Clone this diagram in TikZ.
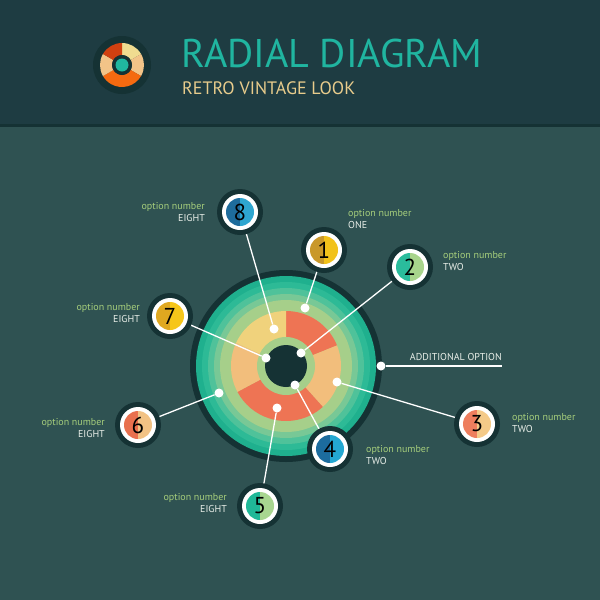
\documentclass[tikz,border=0pt]{standalone}
\usepackage{fontspec}
\setmainfont{PT Sans}
\begin{document}
\begin{tikzpicture}[x=1pt,y=-1pt,
  dot/.style={circle,fill=white,minimum size=9pt,inner sep=0pt},
  lnk/.style={white,line width=1.3pt},
  opt/.style={font=\fontsize{10}{11}\selectfont,align=#1,inner sep=0pt},
  ]
\definecolor{bg}{HTML}{2F5252}\definecolor{hd}{HTML}{1E3C42}\definecolor{dk}{HTML}{153234}
\definecolor{lg}{HTML}{A6CE7C}\definecolor{wt}{HTML}{E8EEE8}
\fill[bg] (0,0) rectangle (600,600);
\fill[hd] (0,0) rectangle (600,124);
\fill[dk] (0,124) rectangle (600,127);
% header icon (angles clockwise because y points down)
\fill[dk] (122,65) circle (29);
\foreach \a/\b/\c in {-90/-30/F0DC90,-30/30/F2C488,30/150/F56A10,150/210/F2C488,210/270/D04010}{
  \definecolor{tmp}{HTML}{\c}
  \fill[tmp] (122,65) ++(\a:22) arc[start angle=\a,end angle=\b,radius=22] -- ++(\b:-12) arc[start angle=\b,end angle=\a,radius=10] -- cycle;}
\fill[dk] (122,65) circle (10);
\fill[fill={rgb,255:red,32;green,184;blue,160}] (122,65) circle (6.5);
\node[anchor=base west,inner sep=0pt,text={rgb,255:red,32;green,181;blue,160},font=\fontsize{40}{40}\selectfont] (t) at (181,67) {RADIAL DIAGRAM};
\node[anchor=base west,inner sep=0pt,text={rgb,255:red,232;green,204;blue,140},font=\fontsize{18}{18}\selectfont] (st) at (182,94) {RETRO VINTAGE LOOK};
% main circle
\coordinate (C) at (286,366);
\fill[dk] (C) circle (96);
\foreach \r/\c in {90/1FB08E,84/2DBA96,78/4FC29A,72/78C896,66/A6CF8A}{
  \definecolor{tmp}{HTML}{\c}
  \fill[tmp] (C) circle (\r);}
\foreach \a/\b/\c in {-90/-22/EE7454,-22/48/F2BE7C,48/152/EE7454,152/205/F2BE7C,205/270/F0D27C}{
  \definecolor{tmp}{HTML}{\c}
  \fill[tmp] (C) -- ++(\a:55) arc[start angle=\a,end angle=\b,radius=55] -- cycle;}
\definecolor{tmp}{HTML}{A6CF8A}
\fill[tmp] (C) circle (29);
\fill[dk] (C) circle (21);
% numbered circles
\newcommand{\numc}[5]{%
  \fill[dk] (#2) circle (23);
  \fill[white] (#2) circle (18);
  \definecolor{tmpa}{HTML}{#3}\definecolor{tmpb}{HTML}{#4}
  \fill[tmpa] (#2) ++(90:14) arc[start angle=90,end angle=270,radius=14] -- cycle;
  \fill[tmpb] (#2) ++(-90:14) arc[start angle=-90,end angle=90,radius=14] -- cycle;
  \node[font=\fontsize{23}{23}\selectfont,text=black] (n#1) at (#2) {#5};}
\coordinate (p1) at (324,250);\coordinate (p2) at (410,267);\coordinate (p3) at (477,424);
\coordinate (p4) at (330,449);\coordinate (p5) at (260,506);\coordinate (p6) at (138,425);
\coordinate (p7) at (170,316);\coordinate (p8) at (240,212);
\node[dot] (d1) at (305,308) {};\node[dot] (d2) at (301,353) {};\node[dot] (d3) at (337,382) {};
\node[dot] (d4) at (295,385) {};\node[dot] (d5) at (277,408) {};\node[dot] (d6) at (219,393) {};
\node[dot] (d7) at (266,358) {};\node[dot] (d8) at (274,329) {};\node[dot] (da) at (381,366) {};
\coordinate (ae) at (502,366);
\foreach \i in {1,...,8} \draw[lnk] (d\i) -- (p\i);
\draw[lnk] (da) -- (ae);
\numc{1}{p1}{C9982A}{F2C21A}{1}
\numc{2}{p2}{2ABC9C}{A8D48C}{2}
\numc{3}{p3}{EE7E5E}{F4CA88}{3}
\numc{4}{p4}{1C6C9E}{24A8D2}{4}
\numc{5}{p5}{20B898}{A8D690}{5}
\numc{6}{p6}{E8704E}{F2C284}{6}
\numc{7}{p7}{E0A820}{F6C61A}{7}
\numc{8}{p8}{1E6C9C}{2EA6D0}{8}
\node[anchor=base east,opt=right,text=wt] (aa) at (502,360) {ADDITIONAL OPTION};
% labels
\newcommand{\lbl}[5]{\node[opt=#3,anchor=base #2] (l#1) at (#4) {\textcolor{lg}{option number}\\[1pt]\textcolor{wt}{#5}};}
\lbl{8}{east}{right}{205,221}{EIGHT}
\lbl{1}{west}{left}{348,228}{ONE}
\lbl{2}{west}{left}{443,270}{TWO}
\lbl{7}{east}{right}{140,322}{EIGHT}
\lbl{6}{east}{right}{105,437}{EIGHT}
\lbl{3}{west}{left}{512,432}{TWO}
\lbl{4}{west}{left}{366,464}{TWO}
\lbl{5}{east}{right}{227,512}{EIGHT}
\end{tikzpicture}
\end{document}
